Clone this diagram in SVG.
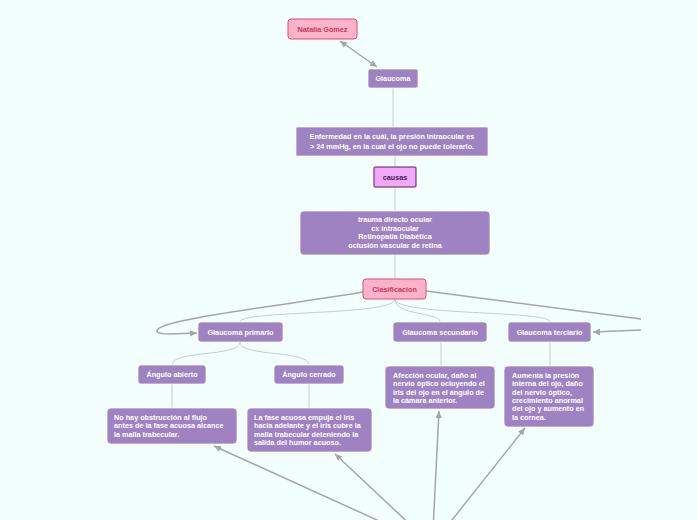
<svg xmlns="http://www.w3.org/2000/svg" width="697" height="520" viewBox="0 0 697 520">
<style>
text{font-family:"Liberation Sans",Arial,sans-serif;font-weight:bold;font-size:7.25px;}
.p rect{fill:#9f82c1;stroke:#ffffff;stroke-opacity:0.7;stroke-width:1;}
.p text{fill:#ffffff;}
.k rect{fill:#ffb3cb;stroke:#d94c7a;stroke-width:1;}
.k text{fill:#c8385e;}
.c rect{fill:#f0a8f8;stroke:#5a1a5a;stroke-width:1;}
.c text{fill:#4a1a5a;}
.t{fill:none;stroke:#c4cece;stroke-width:1;}
.a{fill:none;stroke:#a6a6a6;stroke-width:1.5;}
</style>
<defs>
<marker id="ah" markerWidth="8" markerHeight="8" refX="7" refY="4" orient="auto" markerUnits="userSpaceOnUse">
<path d="M0,0.8 L7,4 L0,7.2 Z" fill="#a6a6a6"/>
</marker>
<marker id="as" markerWidth="8" markerHeight="8" refX="1" refY="4" orient="auto" markerUnits="userSpaceOnUse">
<path d="M8,0.8 L1,4 L8,7.2 Z" fill="#a6a6a6"/>
</marker>
<clipPath id="clip"><rect x="0" y="0" width="641" height="520"/></clipPath>
</defs>
<rect width="697" height="520" fill="#f2fffc"/>
<g id="connectors">
<line class="t" x1="393" y1="88" x2="393" y2="127"/>
<line class="t" x1="395" y1="156" x2="395" y2="167"/>
<line class="t" x1="395" y1="187" x2="395" y2="211"/>
<line class="t" x1="395" y1="255" x2="395" y2="279"/>
<path class="t" d="M395,299 C395,316 240,310 240,322"/>
<path class="t" d="M395,299 C395,316 440,312 440,322"/>
<path class="t" d="M395,299 C395,316 550,310 550,322"/>
<path class="t" d="M240,342 C240,357 172,350 172,365"/>
<path class="t" d="M240,342 C240,357 309,350 309,365"/>
<line class="t" x1="172" y1="384" x2="172" y2="408"/>
<line class="t" x1="309" y1="384" x2="309" y2="408"/>
<line class="t" x1="441" y1="342" x2="441" y2="366"/>
<line class="t" x1="550" y1="342" x2="550" y2="366"/>
<line class="a" x1="340" y1="41" x2="377" y2="67" marker-start="url(#as)" marker-end="url(#ah)"/>
<path class="a" d="M363,292 C280,306 170,318 158,329 C152,336 175,334 197,333" marker-end="url(#ah)"/>
<path class="a" d="M426,291 L641,319 C700,327 700,330 641,330 L593,332" clip-path="url(#clip)"/>
<path d="M600,328.5 L593,332 L600,335.5 Z" fill="#a6a6a6"/>
<line class="a" x1="399" y1="530" x2="214" y2="446" marker-end="url(#ah)"/>
<line class="a" x1="416" y1="530" x2="335" y2="454" marker-end="url(#ah)"/>
<line class="a" x1="433" y1="530" x2="439" y2="411" marker-end="url(#ah)"/>
<line class="a" x1="444" y1="530" x2="525" y2="428" marker-end="url(#ah)"/>
</g>
<g id="natalia" class="k"><rect x="288" y="19" width="69" height="20" rx="3"/><text x="322.5" y="31.5" text-anchor="middle">Natalia Gomez</text></g>
<g id="glaucoma" class="p"><rect x="368" y="69" width="50" height="19" rx="2"/><text x="393" y="81" text-anchor="middle">Glaucoma</text></g>
<g id="enfermedad" class="p"><rect x="296" y="127" width="192" height="29" rx="1"/><text x="392" y="139" text-anchor="middle">Enfermedad en la cuál, la presión intraocular es</text><text x="392" y="148.5" text-anchor="middle">&gt; 24 mmHg, en la cual el ojo no puede tolerarlo.</text></g>
<g id="causas" class="c"><rect x="374" y="167" width="42" height="20" rx="1"/><text x="395" y="179.5" text-anchor="middle">causas</text></g>
<g id="trauma" class="p"><rect x="300" y="211" width="190" height="44" rx="4"/><text x="395" y="222" text-anchor="middle">trauma directo ocular</text><text x="395" y="230.7" text-anchor="middle">cx intraocular</text><text x="395" y="239.4" text-anchor="middle">Retinopatía Diabética</text><text x="395" y="248.1" text-anchor="middle">oclusión vascular de retina</text></g>
<g id="clasificacion" class="k"><rect x="363" y="279" width="63" height="20" rx="3"/><text x="394.5" y="291.5" text-anchor="middle">Clasificacion</text></g>
<g id="primario" class="p"><rect x="198" y="322" width="85" height="20" rx="3"/><text x="240.5" y="334.5" text-anchor="middle">Glaucoma primario</text></g>
<g id="secundario" class="p"><rect x="393" y="322" width="94" height="20" rx="3"/><text x="440" y="334.5" text-anchor="middle">Glaucoma secundario</text></g>
<g id="terciario" class="p"><rect x="508" y="322" width="83" height="20" rx="3"/><text x="549.5" y="334.5" text-anchor="middle">Glaucoma terciario</text></g>
<g id="abierto" class="p"><rect x="138" y="365" width="68" height="19" rx="3"/><text x="172" y="377" text-anchor="middle">Ángulo abierto</text></g>
<g id="cerrado" class="p"><rect x="274" y="365" width="70" height="19" rx="3"/><text x="309" y="377" text-anchor="middle">Ángulo cerrado</text></g>
<g id="afeccion" class="p"><rect x="385" y="366" width="110" height="43" rx="4"/><text x="393" y="378">Afección ocular, daño al</text><text x="393" y="386.4">nervio óptico ocluyendo el</text><text x="393" y="394.8">iris del ojo en el ángulo de</text><text x="393" y="403.2">la cámara anterior.</text></g>
<g id="aumenta" class="p"><rect x="504" y="366" width="90" height="61" rx="4"/><text x="512" y="378">Aumenta la presión</text><text x="512" y="386.3">interna del ojo, daño</text><text x="512" y="394.6">del nervio óptico,</text><text x="512" y="402.9">crecimiento anormal</text><text x="512" y="411.2">del ojo y aumento en</text><text x="512" y="419.5">la cornea.</text></g>
<g id="nohay" class="p"><rect x="107" y="408" width="130" height="36" rx="4"/><text x="114" y="420">No hay obstrucción al flujo</text><text x="114" y="428.4">antes de la fase acuosa alcance</text><text x="114" y="436.8">la malla trabecular.</text></g>
<g id="lafase" class="p"><rect x="247" y="408" width="125" height="44" rx="4"/><text x="254" y="420">La fase acuosa empuja el iris</text><text x="254" y="428.4">hacia adelante y el iris cubre la</text><text x="254" y="436.8">malla trabecular deteniendo la</text><text x="254" y="445.2">salida del humor acuoso.</text></g>
</svg>
